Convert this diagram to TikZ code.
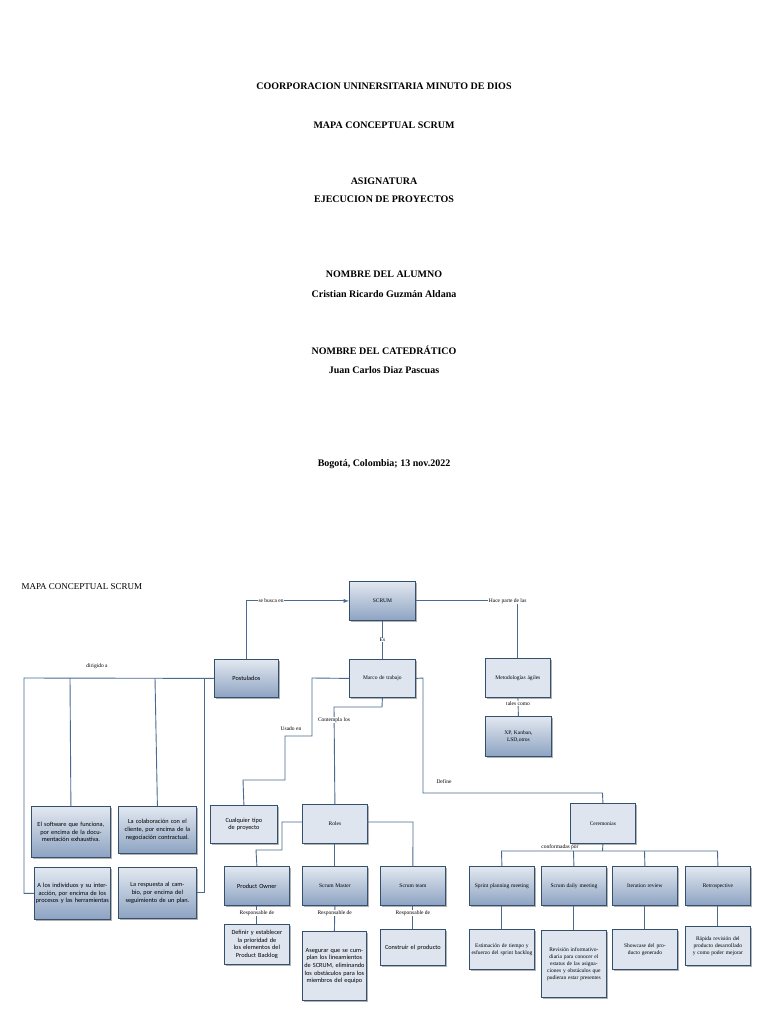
\documentclass[tikz,border=0pt]{standalone}
\usepackage{fontspec}
\usetikzlibrary{shadows}
\setmainfont{Liberation Serif}
\newfontfamily\calib{Carlito}
\begin{document}
\begin{tikzpicture}[x=1pt,y=-1pt,
  base/.style={draw=boxline,line width=0.8pt,align=center,anchor=north west,inner sep=1pt,
    drop shadow={shadow xshift=1.2pt,shadow yshift=-1.2pt,fill=black!60}},
  dark/.style={base,top color=boxtop,bottom color=boxbot},
  light/.style={base,fill=boxlight},
  conn/.style={draw=connc,line width=0.9pt},
  lbl/.style={font=\fontsize{5.5}{6}\selectfont,fill=white,inner sep=0.5pt},
  ttl/.style={font=\bfseries\fontsize{10}{12}\selectfont}]
\definecolor{boxline}{HTML}{34506F}
\definecolor{boxtop}{HTML}{E2E8F0}
\definecolor{boxbot}{HTML}{8DA3C2}
\definecolor{boxlight}{HTML}{DFE5EF}
\definecolor{connc}{HTML}{4A6A8F}
\useasboundingbox[fill=white] (0,0) rectangle (768,1024);
% titles
\node[ttl] (t1) at (384,86) {COORPORACION UNINERSITARIA MINUTO DE DIOS};
\node[ttl] (t2) at (384,125) {MAPA CONCEPTUAL SCRUM};
\node[ttl] (t3) at (384,181) {ASIGNATURA};
\node[ttl] (t4) at (384,199) {EJECUCION DE PROYECTOS};
\node[ttl] (t5) at (384,274) {NOMBRE DEL ALUMNO};
\node[ttl] (t6) at (384,294) {Cristian Ricardo Guzmán Aldana};
\node[ttl] (t7) at (384,350) {NOMBRE DEL CATEDRÁTICO};
\node[ttl] (t8) at (384,370) {Juan Carlos Diaz Pascuas};
\node[ttl] (t9) at (384,464) {Bogotá, Colombia; 13 nov.2022};
\node[anchor=west,font=\fontsize{9}{11}\selectfont] (mt) at (18,587) {MAPA CONCEPTUAL SCRUM};
% boxes
\newcommand{\bx}[7]{\node[#1,minimum width=#4-#2,minimum height=#5-#3,text width=#4-#2-2pt,#6] (#7) at (#2,#3)}
\def\sfn{\fontsize{5.5}{7}\selectfont}
\def\cf{\calib\fontsize{6.3}{7.6}\selectfont}
\bx{dark}{349}{581}{415}{620}{font=\sfn}{scrum} {SCRUM};
\bx{dark}{214}{659}{278}{697}{font=\cf}{post} {Postulados};
\bx{light}{349}{659}{415}{697}{font=\sfn,align=center}{marco} {Marco de trabajo\\[16pt]};
\bx{light}{485}{658}{550}{697}{font=\sfn}{meto} {Metodologías ágiles\\[8pt]};
\bx{dark}{485}{716}{551}{756}{font=\sfn}{xp} {XP, Kanban,\\ LSD,otros\\[14pt]};
\bx{light}{210}{805}{277}{843}{font=\cf}{cual} {Cualquier tipo de proyecto\\[6pt]};
\bx{light}{302}{804}{367}{843}{font=\sfn}{roles} {Roles\\[22pt]};
\bx{light}{570}{803}{635}{843}{font=\sfn}{cere} {Ceremonias\\[22pt]};
\bx{dark}{31}{806}{110}{857}{font=\cf}{soft} {El software que funciona, por encima de la documentación exhaustiva.};
\bx{dark}{118}{806}{196}{853}{font=\cf}{cola} {La colaboración con el cliente, por encima de la negociación contractual.};
\bx{dark}{34}{867}{110}{919}{font=\cf}{indi} {A los individuos y su interacción, por encima de los procesos y las herramientas};
\bx{dark}{118}{867}{196}{918}{font=\cf}{resp} {La respuesta al cambio, por encima del seguimiento de un plan.\\[4pt]};
\bx{dark}{224}{866}{289}{905}{font=\cf}{po} {Product Owner};
\bx{dark}{302}{866}{367}{905}{font=\sfn}{sm} {Scrum Master\\[8pt]};
\bx{dark}{380}{866}{445}{905}{font=\sfn}{st} {Scrum team\\[8pt]};
\bx{dark}{469}{866}{534}{905}{font=\sfn}{spm} {Sprint planning meeting\\[6pt]};
\bx{dark}{541}{866}{606}{905}{font=\sfn}{sdm} {Scrum daily meeting\\[10pt]};
\bx{dark}{612}{866}{677}{905}{font=\sfn}{ir} {Iteration review\\[10pt]};
\bx{dark}{685}{866}{750}{905}{font=\sfn}{retro} {Retrospective\\[10pt]};
\bx{light}{224}{924}{289}{964}{font=\cf}{defi} {Definir y establecer la prioridad de los elementos del Product Backlog};
\bx{light}{302}{931}{366}{1000}{font=\cf}{aseg} {Asegurar que se cumplan los lineamientos de SCRUM, eliminando los obstáculos para los miembros del equipo};
\bx{light}{380}{929}{445}{965}{font=\cf}{cons} {Construir el producto\\[8pt]};
\bx{light}{469}{929}{534}{969}{font=\sfn}{esti} {Estimación de tiempo y esfuerzo del sprint backlog};
\bx{light}{541}{930}{606}{997}{font=\sfn}{revi} {Revisión informativodiaria para conocer el estatus de las asignaciones y obstáculos que pudieran estar presentes};
\bx{light}{612}{929}{677}{969}{font=\sfn}{show} {Showcase del producto generado};
\bx{light}{685}{926}{750}{965}{font=\sfn}{rapi} {Rápida revisión del producto desarrollado y como poder mejorar};
% connectors
\draw[conn,-latex] (post.north) |- (scrum.west) node[lbl,pos=0.62] {se busca en};
\draw[conn] (scrum.east) -| (meto.north) node[lbl,pos=0.45] {Hace parte de las};
\draw[conn] (scrum.south) -- (marco.north) node[lbl,midway] {Es};
\draw[conn] (meto.south) -- (xp.north) node[lbl,pos=0.3] {tales como};
\coordinate (pl) at (24,678);
\draw[conn] (post.west) -- (pl) |- (indi.west);
\node[lbl] (dir) at (97,666) {dirigido a};
\draw[conn] (70,678) -- (soft.north);
\draw[conn] (155,678) -- (cola.north);
\draw[conn] (204,678) |- (resp.east);
\draw[conn] (marco.west) -- (312,678) -- (312,736) -- (285,736) -- (285,780) -- (243,780) -- (cual.north);
\node[lbl] (usado) at (291,729) {Usado en};
\draw[conn] (marco.south) -- (382,707) -- (334,707) -- (roles.north);
\node[lbl] (cont) at (334,720) {Contempla los};
\draw[conn] (marco.east) -- (423,678) -- (423,793) -- (602.5,793) -- (cere.north);
\node[lbl] (def) at (444,782) {Define};
\draw[conn] (302,822) -- (282,822) -- (282,850) -- (256,850) -- (po.north);
\draw[conn] (367,822) -- (413,822) -- (st.north);
\draw[conn] (roles.south) -- (sm.north);
\draw[conn] (po.south) -- (defi.north) node[lbl,pos=0.4] {Responsable de};
\draw[conn] (sm.south) -- (aseg.north) node[lbl,pos=0.3] {Responsable de};
\draw[conn] (st.south) -- (cons.north) node[lbl,pos=0.3] {Responsable de};
\draw[conn] (cere.south) -- (602.5,851);
\draw[conn] (spm.north) -- (501.5,851) -- (717.5,851) -- (retro.north);
\draw[conn] (573.5,851) -- (sdm.north);
\draw[conn] (644.5,851) -- (ir.north);
\node[lbl,fill=none] (conf) at (560,847) {conformadas por};
\draw[conn] (spm.south) -- (esti.north);
\draw[conn] (sdm.south) -- (revi.north);
\draw[conn] (ir.south) -- (show.north);
\draw[conn] (retro.south) -- (rapi.north);
\end{tikzpicture}
\end{document}
